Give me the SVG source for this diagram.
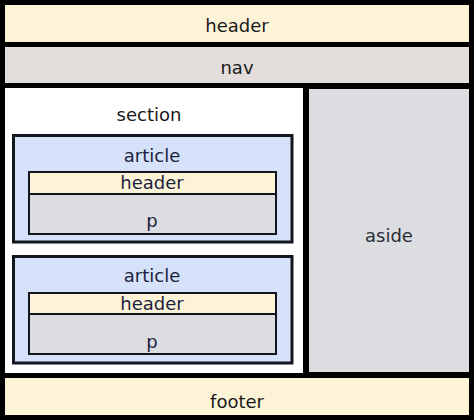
<svg xmlns="http://www.w3.org/2000/svg" width="474" height="420" viewBox="0 0 474 420">
<style>
text{font-family:"DejaVu Sans","Verdana",sans-serif;font-size:18px;text-anchor:middle;dominant-baseline:central;fill:#1a1a1a}
.art text{fill:#1c2240}
.outer{stroke:none}
.art rect{stroke:#14161f}
</style>
<rect x="0" y="0" width="474" height="420" fill="#000"/>
<g id="header">
<rect class="outer" x="5" y="5" width="464" height="37" fill="#fdf4d8"/>
<text x="237" y="25">header</text>
</g>
<g id="nav">
<rect class="outer" x="5" y="47" width="464" height="36" fill="#e3dedc"/>
<text x="237" y="67">nav</text>
</g>
<g id="section">
<rect class="outer" x="5" y="88" width="298" height="285" fill="#ffffff"/>
<text x="149" y="114">section</text>
</g>
<g id="article1" class="art">
<rect x="13.5" y="135.5" width="278.5" height="106.5" fill="#d5e2fa" stroke-width="3"/>
<text x="152" y="155">article</text>
<rect x="29" y="172" width="247" height="22" fill="#fdf4d8" stroke-width="2"/>
<text x="152" y="182.5">header</text>
<rect x="29" y="194" width="247" height="40" fill="#dcdde2" stroke-width="2"/>
<text x="152" y="220">p</text>
</g>
<g id="article2" class="art">
<rect x="13.5" y="256.5" width="278.5" height="106.5" fill="#d5e2fa" stroke-width="3"/>
<text x="152" y="275">article</text>
<rect x="29" y="293" width="247" height="21" fill="#fdf4d8" stroke-width="2"/>
<text x="152" y="303">header</text>
<rect x="29" y="314" width="247" height="40" fill="#dcdde2" stroke-width="2"/>
<text x="152" y="341">p</text>
</g>
<g id="aside">
<rect class="outer" x="309" y="89" width="160" height="283" fill="#dbdde1"/>
<text x="389" y="235" style="fill:#2a2d35">aside</text>
</g>
<g id="footer">
<rect class="outer" x="5" y="378" width="464" height="37" fill="#fdf4d8"/>
<text x="237" y="401">footer</text>
</g>
<g id="connectors"></g>
</svg>
